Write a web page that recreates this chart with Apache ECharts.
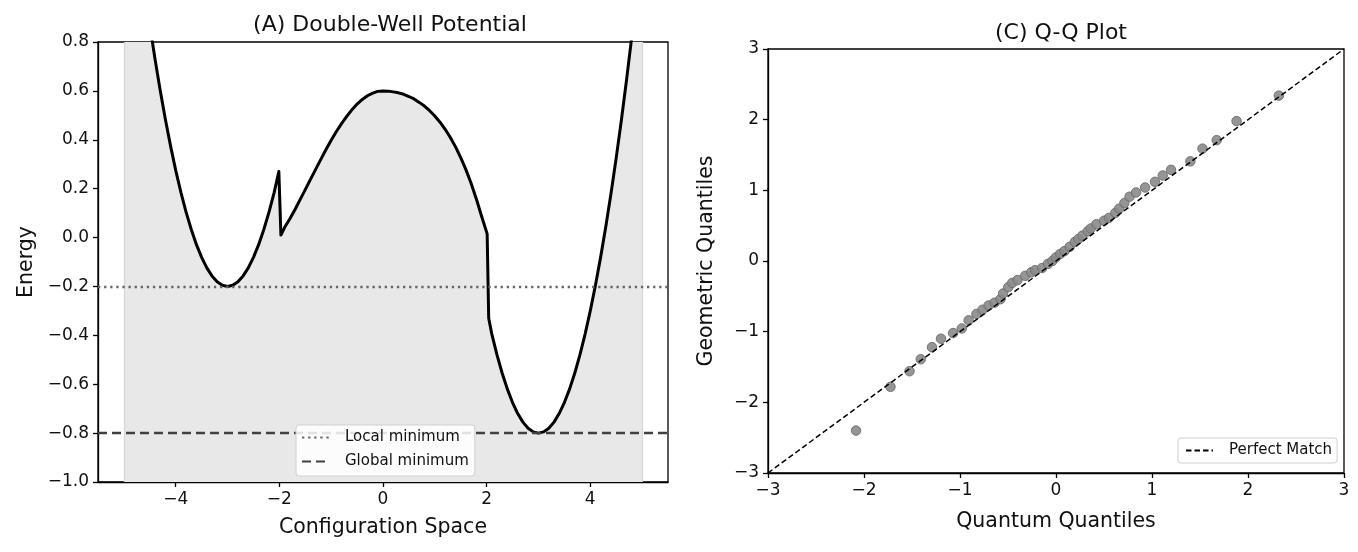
<!DOCTYPE html>
<html>
<head>
<meta charset="utf-8">
<script src="https://cdn.jsdelivr.net/npm/echarts@6/dist/echarts.min.js"></script>
<style>
  html, body { margin: 0; padding: 0; background: #fff; }
  #chart { width: 1358px; height: 552px; }
</style>
</head>
<body>
<div id="chart"></div>
<script>
'use strict';

// (A) double-well curve
var wellX = [
    -5.0, -4.9, -4.8, -4.7, -4.6, -4.5, -4.4, -4.3, -4.2, -4.1, -4.0, -3.9, -3.8, -3.7, -3.6, -3.5,
    -3.4, -3.3, -3.2, -3.1, -3.0, -2.9, -2.8, -2.7, -2.6, -2.5, -2.4, -2.3, -2.2, -2.1, -2.01,
    -1.97, -1.9, -1.8, -1.7, -1.6, -1.5, -1.4, -1.3, -1.2, -1.1, -1.0, -0.9, -0.8, -0.7, -0.6,
    -0.5, -0.4, -0.3, -0.2, -0.1, 0.0, 0.1, 0.2, 0.3, 0.4, 0.5, 0.6, 0.7, 0.8, 0.9, 1.0,
    1.1, 1.2, 1.3, 1.4, 1.5, 1.6, 1.7, 1.8, 1.9, 2.01,
    2.04, 2.1, 2.2, 2.3, 2.4, 2.5, 2.6, 2.7, 2.8, 2.9, 3.0, 3.1, 3.2, 3.3, 3.4, 3.5,
    3.6, 3.7, 3.8, 3.9, 4.0, 4.1, 4.2, 4.3, 4.4, 4.5, 4.6, 4.7, 4.8, 4.9, 5.0
];
var wellY = [
    1.70, 1.515, 1.339, 1.173, 1.016, 0.869, 0.731, 0.603, 0.484, 0.375, 0.275, 0.185, 0.104, 0.033, -0.029, -0.081,
    -0.124, -0.157, -0.181, -0.195, -0.200, -0.195, -0.181, -0.157, -0.124, -0.081, -0.029, 0.033, 0.104, 0.185, 0.27,
    0.01, 0.041, 0.076, 0.114, 0.155, 0.196, 0.238, 0.279, 0.320, 0.360, 0.398, 0.434, 0.466, 0.496, 0.523,
    0.546, 0.565, 0.580, 0.591, 0.598, 0.600, 0.599, 0.596, 0.592, 0.586, 0.577, 0.567, 0.553, 0.538, 0.519, 0.497,
    0.472, 0.443, 0.409, 0.371, 0.327, 0.278, 0.222, 0.159, 0.089, 0.015,
    -0.33, -0.395, -0.48, -0.555, -0.62, -0.675, -0.72, -0.755, -0.78, -0.795, -0.80, -0.795, -0.78, -0.755, -0.72, -0.675,
    -0.62, -0.555, -0.48, -0.395, -0.30, -0.195, -0.08, 0.045, 0.18, 0.325, 0.48, 0.645, 0.82, 1.005, 1.20
];
var localMin = -0.2;
var globalMin = -0.8;
var energyRange = [-1.0, 0.8];
var configRange = [-5.5, 5.5];
var configTicks = [-4, -2, 0, 2, 4];

// (C) Q-Q points
var quantumQ = [
    -2.083, -1.724, -1.526, -1.409, -1.292, -1.198, -1.072, -0.982, -0.910, -0.829,
    -0.766, -0.703, -0.640, -0.578, -0.551, -0.497, -0.456, -0.402, -0.321, -0.258,
    -0.218, -0.146, -0.083, -0.038, -0.002, 0.043, 0.088, 0.142, 0.196, 0.232,
    0.276, 0.330, 0.362, 0.420, 0.501, 0.551, 0.618, 0.658, 0.712, 0.766,
    0.834, 0.928, 1.031, 1.112, 1.198, 1.400, 1.526, 1.674, 1.881, 2.321
];
var geometricQ = [
    -2.40, -1.78, -1.56, -1.39, -1.22, -1.10, -1.02, -0.955, -0.84, -0.75,
    -0.69, -0.63, -0.59, -0.54, -0.46, -0.37, -0.31, -0.27, -0.21, -0.16,
    -0.13, -0.10, -0.04, 0.00, 0.05, 0.10, 0.14, 0.20, 0.27, 0.31,
    0.36, 0.42, 0.46, 0.52, 0.57, 0.61, 0.68, 0.74, 0.82, 0.91,
    0.97, 1.04, 1.12, 1.21, 1.29, 1.41, 1.59, 1.71, 1.98, 2.34
];
var qqRange = [-3, 3];

var FONT = 'DejaVu Sans';
var minus = function (s) { return String(s).replace('-', '\u2212'); };

var wellData = wellX.map(function (x, i) { return [x, wellY[i]]; });
var qqData = quantumQ.map(function (x, i) { return [x, geometricQ[i]]; });
var diagData = [[qqRange[0], qqRange[0]], [qqRange[1], qqRange[1]]];

var axisCommon = {
    axisLine: { show: true, onZero: false, lineStyle: { color: '#000', width: 1.3 } },
    axisTick: { show: true, inside: false, length: 5, lineStyle: { color: '#000', width: 1.3 } },
    splitLine: { show: false },
    nameTextStyle: { fontFamily: FONT, fontSize: 20.5, color: '#111' }
};
function labelStyle(fmt, custom) {
    var o = { fontFamily: FONT, fontSize: 17, color: '#111', margin: 9, formatter: fmt };
    if (custom) { o.customValues = custom; }
    return o;
}
var legendBox = {
    orient: 'vertical', z: 20,
    itemWidth: 27, itemHeight: 10, itemGap: 9,
    backgroundColor: 'rgba(255,255,255,0.85)', borderColor: '#d0d0d0', borderWidth: 1, borderRadius: 3,
    itemStyle: { color: 'rgba(0,0,0,0)', borderWidth: 0, opacity: 0 },
    textStyle: { fontFamily: FONT, fontSize: 15, color: '#111', padding: [0, 0, 0, 11] }
};

var chart = echarts.init(document.getElementById('chart'), null, { renderer: 'canvas' });
var option = {
    animation: false,
    backgroundColor: '#fff',
    title: [
        { text: '(A) Double-Well Potential', left: 385, top: 9, textAlign: 'center',
          textStyle: { fontFamily: FONT, fontSize: 22, fontWeight: 'normal', color: '#111' } },
        { text: '(C) Q-Q Plot', left: 1056, top: 17, textAlign: 'center',
          textStyle: { fontFamily: FONT, fontSize: 22, fontWeight: 'normal', color: '#111' } }
    ],
    grid: [
        { left: 98, top: 42, width: 570, height: 440, show: true, borderColor: '#000', borderWidth: 1.3, containLabel: false },
        { left: 768, top: 49, width: 576, height: 424, show: true, borderColor: '#000', borderWidth: 1.3, containLabel: false }
    ],
    xAxis: [
        Object.assign({}, axisCommon, {
            gridIndex: 0, type: 'value', min: configRange[0], max: configRange[1],
            name: 'Configuration Space', nameLocation: 'middle', nameGap: 35,
            axisTick: Object.assign({}, axisCommon.axisTick, { customValues: configTicks }),
            axisLabel: labelStyle(function (v) { return minus(v); }, configTicks)
        }),
        Object.assign({}, axisCommon, {
            gridIndex: 1, type: 'value', min: qqRange[0], max: qqRange[1], interval: 1,
            name: 'Quantum Quantiles', nameLocation: 'middle', nameGap: 38,
            axisLabel: labelStyle(function (v) { return minus(v); })
        })
    ],
    yAxis: [
        Object.assign({}, axisCommon, {
            gridIndex: 0, type: 'value', min: energyRange[0], max: energyRange[1], interval: 0.2,
            name: 'Energy', nameLocation: 'middle', nameGap: 61,
            axisLabel: labelStyle(function (v) { return minus(v.toFixed(1)); })
        }),
        Object.assign({}, axisCommon, {
            gridIndex: 1, type: 'value', min: qqRange[0], max: qqRange[1], interval: 1,
            name: 'Geometric Quantiles', nameLocation: 'middle', nameGap: 51,
            axisLabel: labelStyle(function (v) { return minus(v); })
        })
    ],
    legend: [
        Object.assign({}, legendBox, {
            data: ['Local minimum', 'Global minimum'], left: 296, top: 425,
            padding: [5, 6, 7, 5]
        }),
        Object.assign({}, legendBox, {
            data: ['Perfect Match'], left: 1178, top: 438,
            padding: [5, 5, 5, 7]
        })
    ],
    series: [
        {
            name: 'fill', type: 'line', xAxisIndex: 0, yAxisIndex: 0,
            data: wellData, symbol: 'none', clip: true, z: 1,
            lineStyle: { width: 0 },
            areaStyle: { color: '#e8e8e8', opacity: 1, origin: 'start' },
            markLine: {
                silent: true, symbol: 'none', label: { show: false },
                lineStyle: { color: '#d6d6d6', width: 1.2, type: 'solid' },
                data: [{ xAxis: wellX[0] }, { xAxis: wellX[wellX.length - 1] }]
            }
        },
        {
            name: 'Local minimum', type: 'line', xAxisIndex: 0, yAxisIndex: 0,
            data: [], symbol: 'none', z: 2,
            lineStyle: { color: '#666', width: 2.3, type: [2.3, 3.8] },
            markLine: {
                silent: true, symbol: 'none', label: { show: false },
                lineStyle: { color: '#666', width: 2.3, type: [2.3, 3.8] },
                data: [{ yAxis: localMin }]
            }
        },
        {
            name: 'Global minimum', type: 'line', xAxisIndex: 0, yAxisIndex: 0,
            data: [], symbol: 'none', z: 2,
            lineStyle: { color: '#404040', width: 2.3, type: [9, 5] },
            markLine: {
                silent: true, symbol: 'none', label: { show: false },
                lineStyle: { color: '#404040', width: 2.3, type: [9, 5] },
                data: [{ yAxis: globalMin }]
            }
        },
        {
            name: 'curve', type: 'line', xAxisIndex: 0, yAxisIndex: 0,
            data: wellData, symbol: 'none', clip: true, z: 3,
            lineStyle: { color: '#000', width: 3, join: 'round' }
        },
        {
            name: 'points', type: 'scatter', xAxisIndex: 1, yAxisIndex: 1,
            data: qqData, symbolSize: 9.5, z: 2,
            itemStyle: { color: '#8a8a8a', borderColor: '#6e6e6e', borderWidth: 1, opacity: 0.9 }
        },
        {
            name: 'Perfect Match', type: 'line', xAxisIndex: 1, yAxisIndex: 1,
            data: diagData, symbol: 'none', z: 3,
            lineStyle: { color: '#000', width: 1.5, type: [5.5, 3] }
        }
    ]
};
chart.setOption(option);
</script>
</body>
</html>
